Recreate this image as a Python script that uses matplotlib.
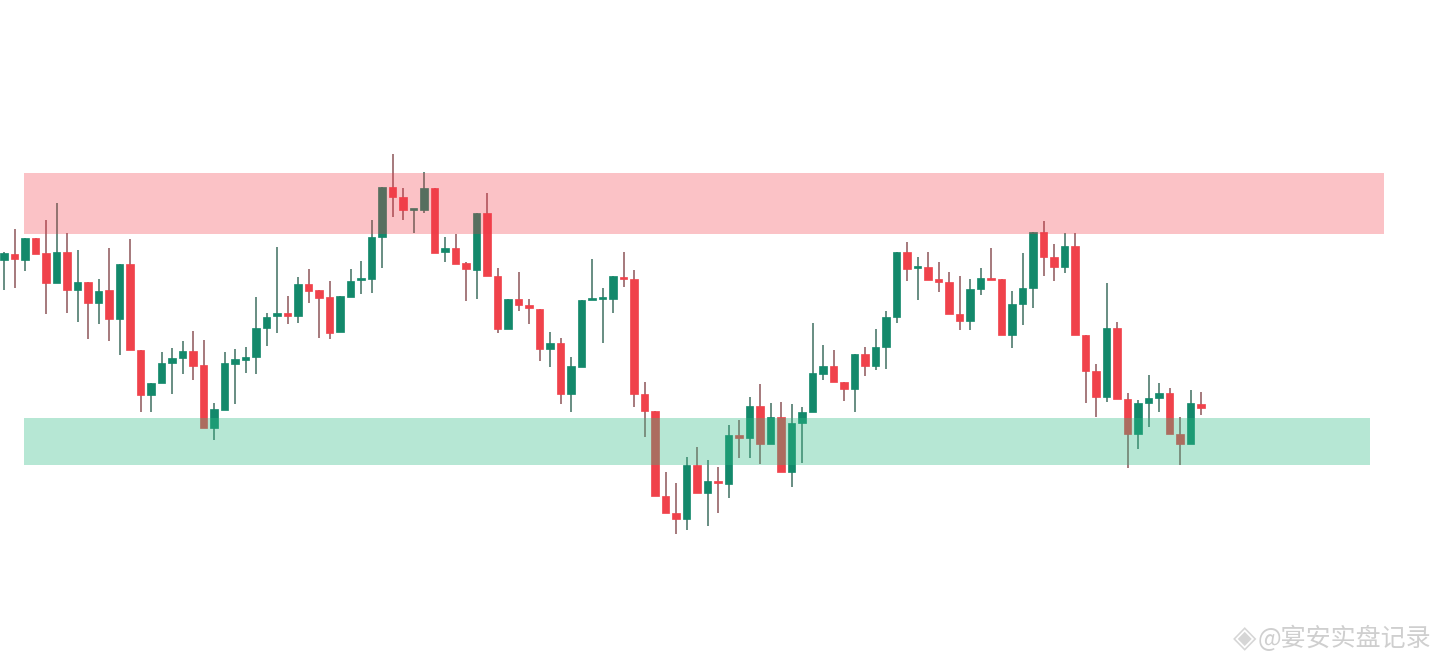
import matplotlib
matplotlib.use("Agg")
import matplotlib.pyplot as plt
from matplotlib.patches import Rectangle

# OHLC values (arbitrary price units)
opens = [40.5, 41.1, 40.5, 42.7, 41.2, 38.2, 41.3, 37.5, 38.3, 36.2,
         37.5, 34.6, 40.1, 31.5, 27.0, 28.2, 30.2, 30.7, 31.4, 30.0,
         23.7, 25.5, 30.1, 30.5, 30.8, 33.7, 34.9, 35.2, 34.9, 38.1,
         37.5, 36.8, 33.3, 36.8, 38.5, 38.6, 42.8, 47.8, 46.8, 45.5,
         45.5, 47.7, 41.3, 41.7, 40.2, 39.5, 45.2, 38.9, 33.6, 36.6,
         36.0, 35.6, 31.6, 32.2, 27.1, 29.8, 36.5, 36.6, 36.6, 38.8,
         38.6, 27.1, 25.4, 16.9, 15.2, 14.6, 20.0, 17.2, 18.4, 18.1,
         23.0, 22.7, 25.9, 22.1, 24.8, 19.3, 24.2, 25.3, 29.1, 29.9,
         28.3, 27.6, 31.1, 29.9, 31.8, 34.8, 41.3, 39.7, 39.8, 38.6,
         38.3, 35.1, 34.4, 37.6, 38.7, 38.6, 33.0, 36.1, 37.7, 43.3,
         40.8, 39.8, 41.9, 33.0, 29.4, 26.8, 33.7, 26.6, 23.1, 26.2,
         26.7, 27.2, 23.1, 22.1, 26.1]
highs = [41.3, 43.6, 42.7, 42.7, 44.5, 46.2, 43.2, 41.5, 38.3, 38.6,
         41.7, 40.1, 42.6, 31.5, 28.2, 31.3, 31.7, 32.4, 33.4, 32.5,
         26.2, 31.3, 31.6, 31.8, 36.8, 35.2, 41.8, 36.9, 38.8, 39.6,
         37.5, 38.4, 36.9, 39.6, 40.4, 44.5, 47.8, 51.1, 47.7, 45.6,
         49.3, 47.7, 42.8, 43.1, 40.3, 45.2, 47.2, 39.7, 36.6, 39.3,
         36.6, 35.6, 33.3, 32.7, 30.8, 36.5, 40.6, 37.7, 38.9, 41.3,
         39.5, 28.3, 25.4, 19.3, 18.2, 20.8, 21.8, 20.5, 19.8, 24.0,
         24.5, 26.8, 28.1, 26.2, 26.3, 26.1, 25.8, 34.2, 32.0, 31.5,
         28.3, 31.1, 31.8, 33.6, 35.4, 41.3, 42.3, 40.8, 41.3, 40.3,
         39.3, 38.9, 38.6, 39.7, 41.7, 38.6, 37.4, 41.2, 43.3, 44.4,
         42.1, 43.2, 43.2, 33.0, 30.1, 38.2, 34.3, 27.2, 26.5, 29.0,
         28.2, 27.7, 24.8, 27.5, 27.3]
lows = [37.5, 37.7, 39.4, 41.1, 35.1, 38.2, 35.2, 34.3, 32.6, 34.1,
        32.4, 31.0, 31.5, 25.3, 25.3, 28.2, 27.1, 29.1, 28.5, 23.7,
        22.5, 25.5, 26.1, 29.2, 29.1, 31.9, 33.2, 34.1, 34.2, 36.2,
        32.7, 32.6, 33.3, 36.8, 37.1, 37.2, 39.7, 44.8, 44.5, 43.2,
        45.2, 41.2, 40.3, 40.1, 36.4, 36.6, 38.9, 33.2, 33.6, 35.4,
        34.1, 30.4, 29.8, 26.1, 25.3, 29.8, 36.5, 32.2, 35.2, 37.8,
        25.8, 22.8, 16.9, 15.2, 13.1, 13.5, 17.2, 13.9, 15.2, 16.7,
        20.7, 20.7, 20.1, 22.1, 19.3, 17.8, 20.2, 25.3, 28.5, 28.3,
        26.4, 25.3, 28.9, 29.5, 29.6, 34.2, 38.4, 36.5, 38.5, 37.3,
        35.1, 33.5, 33.5, 37.0, 38.5, 33.0, 31.7, 34.0, 35.7, 38.9,
        38.4, 39.2, 33.0, 26.2, 24.8, 26.3, 26.6, 19.7, 21.6, 23.8,
        25.3, 23.1, 20.0, 22.1, 25.0]
closes = [41.2, 40.6, 42.7, 41.1, 38.2, 41.3, 37.5, 38.3, 36.2, 37.4,
          34.6, 40.1, 31.5, 27.0, 28.2, 30.2, 30.7, 31.4, 29.9, 23.7,
          25.6, 30.2, 30.6, 30.8, 33.7, 34.8, 35.2, 34.9, 38.1, 37.4,
          36.7, 33.2, 36.9, 38.4, 38.7, 42.8, 47.8, 46.8, 45.5, 45.6,
          47.7, 41.2, 41.7, 40.1, 39.6, 45.2, 38.9, 33.6, 36.6, 36.0,
          35.7, 31.6, 32.2, 27.1, 29.9, 36.5, 36.6, 36.7, 38.9, 38.6,
          27.1, 25.4, 16.9, 15.2, 14.6, 20.0, 17.2, 18.4, 18.2, 23.0,
          22.7, 25.9, 22.1, 24.8, 19.3, 24.2, 25.3, 29.2, 29.9, 28.3,
          27.6, 31.1, 29.9, 31.8, 34.8, 41.3, 39.6, 39.8, 38.5, 38.3,
          35.1, 34.4, 37.6, 38.7, 38.5, 33.0, 36.1, 37.7, 43.3, 40.8,
          39.8, 41.9, 33.0, 29.4, 26.8, 33.7, 26.6, 23.1, 26.2, 26.7,
          27.2, 23.1, 22.1, 26.2, 25.7]

# Supply / demand zones (price ranges and bar index ranges)
supply_zone = (43.1, 49.2)
supply_span = (1.9, 131.4)
demand_zone = (20.0, 24.7)
demand_span = (1.9, 130.1)

watermark = "@宴安实盘记录"

UP = "#13896b"
DOWN = "#f0424b"
UP_WICK = "#3f6f60"
DOWN_WICK = "#8d5558"

fig = plt.figure(figsize=(14.4, 6.65), dpi=100)
ax = fig.add_axes([0, 0, 1, 1])
ax.set_xlim(-4 / 10.5, (1440 - 4) / 10.5)
ax.set_ylim(0, 66.5)
ax.axis("off")

width = 0.76
for i, (o, h, l, c) in enumerate(zip(opens, highs, lows, closes)):
    up = c >= o
    col = UP if up else DOWN
    wcol = UP_WICK if up else DOWN_WICK
    ax.vlines(i, l, h, color=wcol, linewidth=1.1, zorder=2)
    bottom = min(o, c)
    height = max(abs(c - o), 0.25)
    ax.add_patch(Rectangle((i - width / 2, bottom), width, height,
                           facecolor=col, edgecolor=col, linewidth=0.5, zorder=3))

ax.add_patch(Rectangle((supply_span[0], supply_zone[0]),
                       supply_span[1] - supply_span[0],
                       supply_zone[1] - supply_zone[0],
                       facecolor="#f23645", alpha=0.30, edgecolor="none", zorder=4))
ax.add_patch(Rectangle((demand_span[0], demand_zone[0]),
                       demand_span[1] - demand_span[0],
                       demand_zone[1] - demand_zone[0],
                       facecolor="#2ebd85", alpha=0.35, edgecolor="none", zorder=4))

fig.text(0.994, 0.040, watermark, ha="right", va="center", fontsize=18,
         color="#cfcfcf", family=["Noto Sans CJK SC", "DejaVu Sans"])
fig.text(0.864, 0.040, "◈", ha="center", va="center", fontsize=22,
         color="#d6d6d6", family=["DejaVu Sans"])

fig.savefig("out.png", dpi=100, facecolor="white")
